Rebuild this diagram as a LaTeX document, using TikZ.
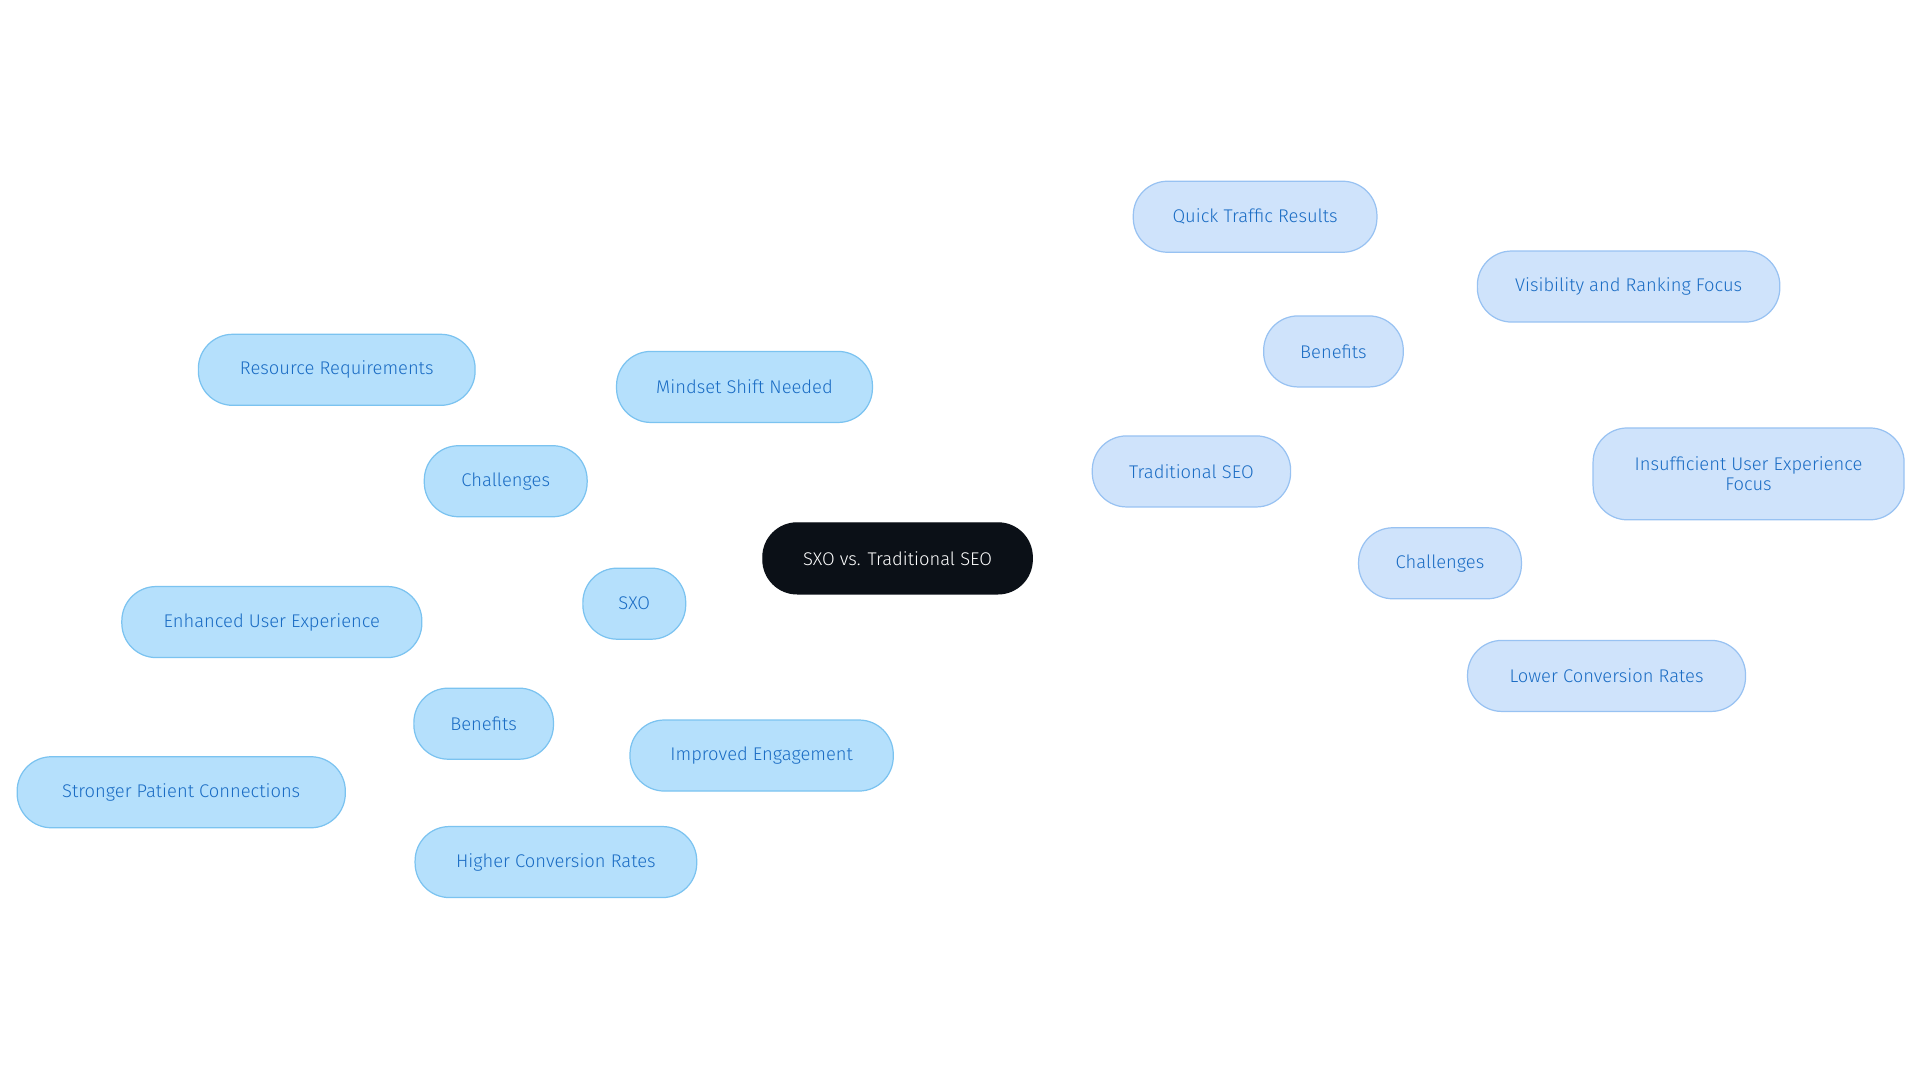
\documentclass[tikz,border=0pt]{standalone}
\usepackage{fontspec}
\setmainfont{Fira Sans Light}
\definecolor{rootfill}{HTML}{0B1017}
\definecolor{sxofill}{HTML}{B5E0FC}
\definecolor{sxoline}{HTML}{7BC3F0}
\definecolor{seofill}{HTML}{CFE3FB}
\definecolor{seoline}{HTML}{98C2F2}
\definecolor{txt}{HTML}{1A6CC4}
\tikzset{
  box/.style={draw, rounded corners=28pt, minimum height=58pt, line width=1pt,
    font=\fontsize{15}{16}\selectfont, align=center, text=txt},
  sxobox/.style={box, fill=sxofill, draw=sxoline},
  seobox/.style={box, fill=seofill, draw=seoline},
  sxoedge/.style={draw=sxoline, line width=2pt},
  seoedge/.style={draw=seoline, line width=2pt}
}
\begin{document}
\begin{tikzpicture}[x=1pt,y=-1pt]
\useasboundingbox (0,0) rectangle (1568,884);

\node [box, fill=rootfill, draw=rootfill, text=white, minimum width=220pt] (root) at (733,456) {SXO vs. Traditional SEO};

% SXO branch
\node [sxobox, minimum width=84pt] (sxo) at (518,493) {SXO};
\node [sxobox, minimum width=133pt] (sxochal) at (413,393) {Challenges};
\node [sxobox, minimum width=226pt] (resreq) at (275,302) {Resource Requirements};
\node [sxobox, minimum width=209pt] (mindset) at (608,316) {Mindset Shift Needed};
\node [sxobox, minimum width=114pt] (sxoben) at (395,591) {Benefits};
\node [sxobox, minimum width=245pt] (enhux) at (222,508) {Enhanced User Experience};
\node [sxobox, minimum width=268pt] (patient) at (148,647) {Stronger Patient Connections};
\node [sxobox, minimum width=230pt] (higher) at (454,704) {Higher Conversion Rates};
\node [sxobox, minimum width=215pt] (engage) at (622,617) {Improved Engagement};

% Traditional SEO branch
\node [seobox, minimum width=162pt] (seo) at (973,385) {Traditional SEO};
\node [seobox, minimum width=114pt] (seoben) at (1089,287) {Benefits};
\node [seobox, minimum width=199pt] (quick) at (1025,177) {Quick Traffic Results};
\node [seobox, minimum width=247pt] (visib) at (1330,234) {Visibility and Ranking Focus};
\node [seobox, minimum width=133pt] (seochal) at (1176,460) {Challenges};
\node [seobox, minimum width=254pt, minimum height=75pt] (insuff) at (1428,387) {Insufficient User Experience\\Focus};
\node [seobox, minimum width=227pt] (lower) at (1312,552) {Lower Conversion Rates};

\begin{scope}[on background layer/.style={}]
\end{scope}
\end{tikzpicture}
\end{document}
